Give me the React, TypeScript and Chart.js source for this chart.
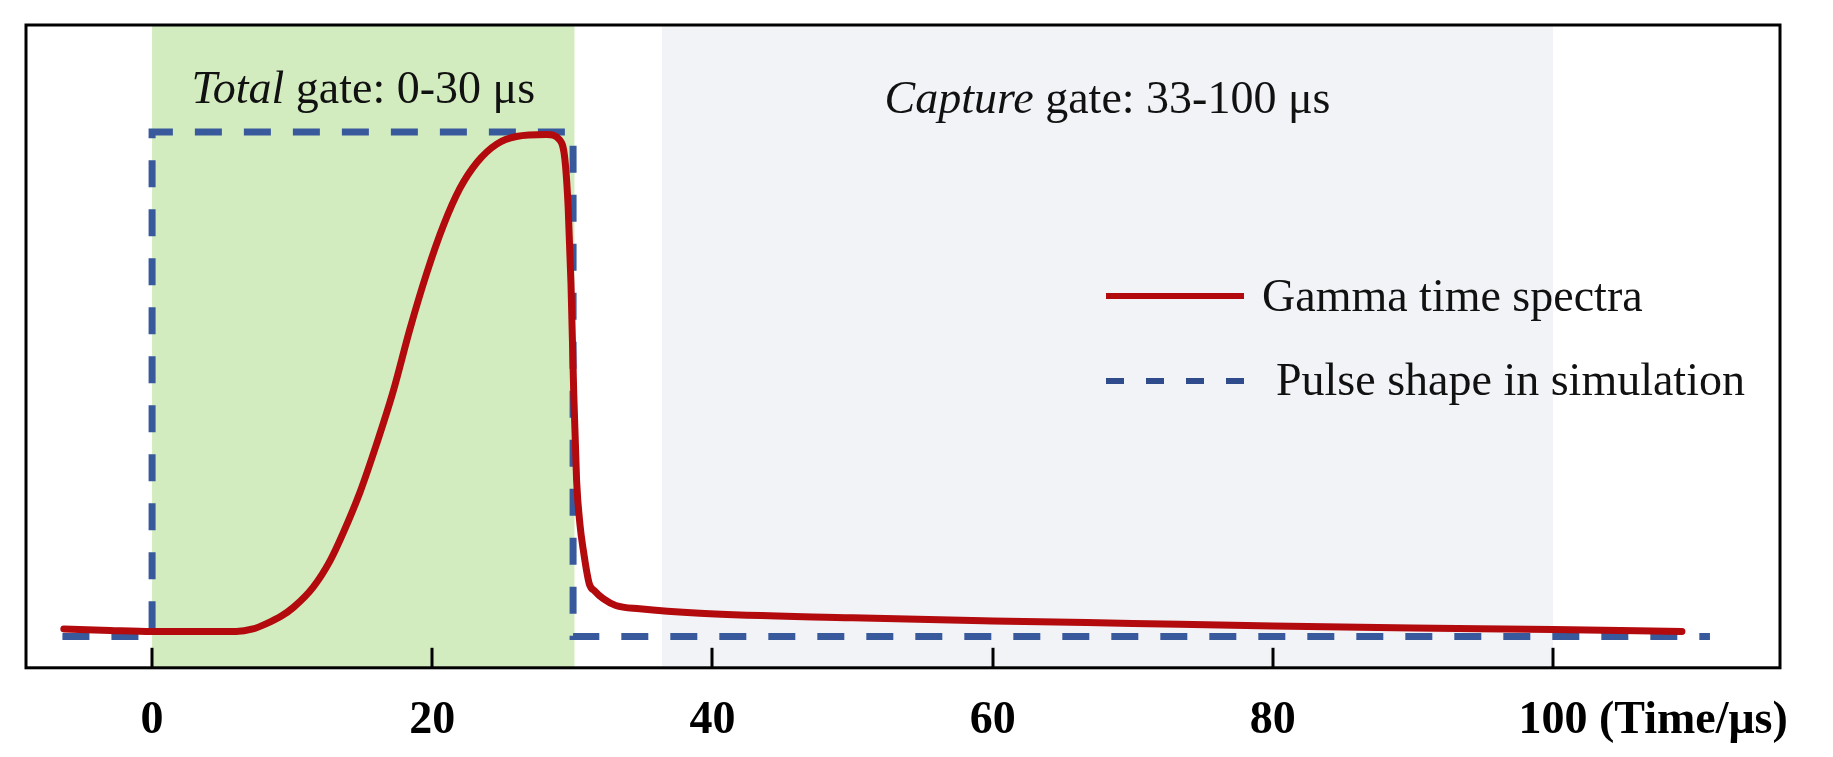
import React, { useEffect, useRef } from "react";
import { Chart, registerables } from "chart.js";

Chart.register(...registerables);

// ---- data ----
const GAMMA_T = [-6.3, -3, 0, 3, 6.0, 7.2, 8.2, 9.2, 10.1, 11.5, 12.7, 13.65, 14.84, 16.03, 17.2, 18.4, 19.6, 20.8, 21.97, 23.2, 24.6, 26.0, 28.15, 29.1, 29.46, 29.7, 29.9, 30.1, 30.3, 30.55, 30.75, 31.2, 31.6, 32.2, 33.1, 34.8, 39.1, 50, 60, 70, 80, 90, 100, 109.2];
const GAMMA_V = [0.015, 0.012, 0.01, 0.01, 0.01, 0.015, 0.026, 0.04, 0.058, 0.098, 0.15, 0.206, 0.286, 0.382, 0.485, 0.609, 0.72, 0.815, 0.888, 0.94, 0.976, 0.991, 0.995, 0.984, 0.947, 0.85, 0.7, 0.48, 0.31, 0.22, 0.177, 0.105, 0.09, 0.075, 0.0615, 0.055, 0.046, 0.037, 0.031, 0.026, 0.021, 0.017, 0.014, 0.01];
const PULSE_T = [-6.4, 0, 0, 30.05, 30.05, 111.2];
const PULSE_V = [0, 0, 1, 1, 0, 0];
const X_TICKS = [0, 20, 40, 60, 80, 100];
const X_RANGE = [-9, 116.2];
const Y_RANGE = [-0.062, 1.212];
const TOTAL_GATE = [0, 30.15];
const CAPTURE_GATE = [36.4, 100];
const TOTAL_LABEL: [string, boolean][] = [["Total", true], [" gate: 0-30 μs", false]];
const CAPTURE_LABEL: [string, boolean][] = [["Capture", true], [" gate: 33-100 μs", false]];
const SERIES_LABELS = ["Gamma time spectra", "Pulse shape in simulation"];
const AXIS_UNIT = "(Time/μs)";

const SERIF = '"Liberation Serif", "Times New Roman", serif';
const RED = "#b30a0e";
const BLUE = "#38599c";

function drawMixed(ctx: CanvasRenderingContext2D, parts: [string, boolean][], cx: number, baseline: number, size: number) {
  const fonts = parts.map(([, it]) => `${it ? "italic " : ""}${size}px ${SERIF}`);
  const widths = parts.map(([t], i) => {
    ctx.font = fonts[i];
    return ctx.measureText(t).width;
  });
  const total = widths.reduce((a, b) => a + b, 0);
  let x = cx - total / 2;
  ctx.textAlign = "left";
  ctx.textBaseline = "alphabetic";
  ctx.fillStyle = "#111";
  parts.forEach(([t], i) => {
    ctx.font = fonts[i];
    ctx.fillText(t, x, baseline);
    x += widths[i];
  });
}

const gatesPlugin = {
  id: "gates",
  beforeDatasetsDraw(chart: any) {
    const { ctx, chartArea: a, scales } = chart;
    const x = scales.x;
    ctx.save();
    ctx.fillStyle = "#d3ecbf";
    const g0 = x.getPixelForValue(TOTAL_GATE[0]);
    const g1 = x.getPixelForValue(TOTAL_GATE[1]);
    ctx.fillRect(g0, a.top, g1 - g0, a.bottom - a.top);
    ctx.fillStyle = "#f2f3f7";
    const c0 = x.getPixelForValue(CAPTURE_GATE[0]);
    const c1 = x.getPixelForValue(CAPTURE_GATE[1]);
    ctx.fillRect(c0, a.top, c1 - c0, a.bottom - a.top);
    ctx.restore();
  },
  afterDraw(chart: any) {
    const { ctx, chartArea: a, scales } = chart;
    const x = scales.x;
    ctx.save();
    // frame
    ctx.strokeStyle = "#000";
    ctx.lineWidth = 3;
    ctx.strokeRect(a.left, a.top, a.right - a.left, a.bottom - a.top);
    // inward ticks
    X_TICKS.forEach((v) => {
      const px = Math.round(x.getPixelForValue(v));
      ctx.beginPath();
      ctx.moveTo(px, a.bottom);
      ctx.lineTo(px, a.bottom - 20);
      ctx.stroke();
    });
    // unit after last tick label
    ctx.font = `bold 46px ${SERIF}`;
    const last = X_TICKS[X_TICKS.length - 1];
    const lw = ctx.measureText(String(last)).width;
    ctx.fillStyle = "#000";
    ctx.textAlign = "left";
    ctx.textBaseline = "middle";
    ctx.fillText(" " + AXIS_UNIT, x.getPixelForValue(last) + lw / 2, a.bottom + 20 + 6 + 27.6);
    // gate labels
    drawMixed(ctx, TOTAL_LABEL, x.getPixelForValue((TOTAL_GATE[0] + TOTAL_GATE[1]) / 2), 103, 46);
    drawMixed(ctx, CAPTURE_LABEL, x.getPixelForValue((CAPTURE_GATE[0] + CAPTURE_GATE[1]) / 2), 113, 46);
    // legend
    const ds = chart.data.datasets;
    ctx.lineCap = "butt";
    ctx.strokeStyle = ds[0].borderColor;
    ctx.lineWidth = 6;
    ctx.beginPath();
    ctx.moveTo(1106, 296);
    ctx.lineTo(1244, 296);
    ctx.stroke();
    ctx.strokeStyle = "#2f4b8c";
    ctx.lineWidth = 6;
    ctx.setLineDash([18, 22]);
    ctx.beginPath();
    ctx.moveTo(1106, 381);
    ctx.lineTo(1244, 381);
    ctx.stroke();
    ctx.setLineDash([]);
    ctx.font = `46px ${SERIF}`;
    ctx.fillStyle = "#111";
    ctx.textBaseline = "alphabetic";
    ctx.fillText(ds[0].label, 1262, 311);
    ctx.fillText(ds[1].label, 1276, 395);
    ctx.restore();
  },
};

export default function App() {
  const ref = useRef<HTMLCanvasElement | null>(null);
  useEffect(() => {
    if (!ref.current) return;
    const chart = new Chart(ref.current, {
      type: "line",
      data: {
        datasets: [
          {
            label: SERIES_LABELS[0],
            data: GAMMA_T.map((t, i) => ({ x: t, y: GAMMA_V[i] })),
            borderColor: RED,
            borderWidth: 7,
            pointRadius: 0,
            cubicInterpolationMode: "monotone",
            borderJoinStyle: "round",
            borderCapStyle: "round",
            fill: false,
          },
          {
            label: SERIES_LABELS[1],
            data: PULSE_T.map((t, i) => ({ x: t, y: PULSE_V[i] })),
            borderColor: BLUE,
            borderWidth: 7,
            borderDash: [27, 22],
            pointRadius: 0,
            tension: 0,
            fill: false,
          },
        ],
      },
      options: {
        animation: false,
        responsive: false,
        layout: { padding: { left: 26, right: 53, top: 25, bottom: 2 } },
        plugins: { legend: { display: false }, tooltip: { enabled: false } },
        scales: {
          x: {
            type: "linear",
            min: X_RANGE[0],
            max: X_RANGE[1],
            afterBuildTicks: (s: any) => {
              s.ticks = X_TICKS.map((v) => ({ value: v }));
            },
            grid: { display: true, drawOnChartArea: false, drawTicks: true, tickLength: 20, color: "rgba(0,0,0,0)" },
            border: { display: false },
            ticks: {
              padding: 6,
              maxRotation: 0,
              autoSkip: false,
              color: "#000",
              font: { family: SERIF, size: 46, weight: "bold", lineHeight: 1.2 },
            },
          },
          y: {
            type: "linear",
            display: false,
            min: Y_RANGE[0],
            max: Y_RANGE[1],
          },
        },
      },
      plugins: [gatesPlugin],
    } as any);
    return () => chart.destroy();
  }, []);
  return (
    <div style={{ position: "absolute", left: 0, top: 0, width: 1833, height: 757, background: "#fff" }}>
      <canvas ref={ref} width={1833} height={757} />
    </div>
  );
}
